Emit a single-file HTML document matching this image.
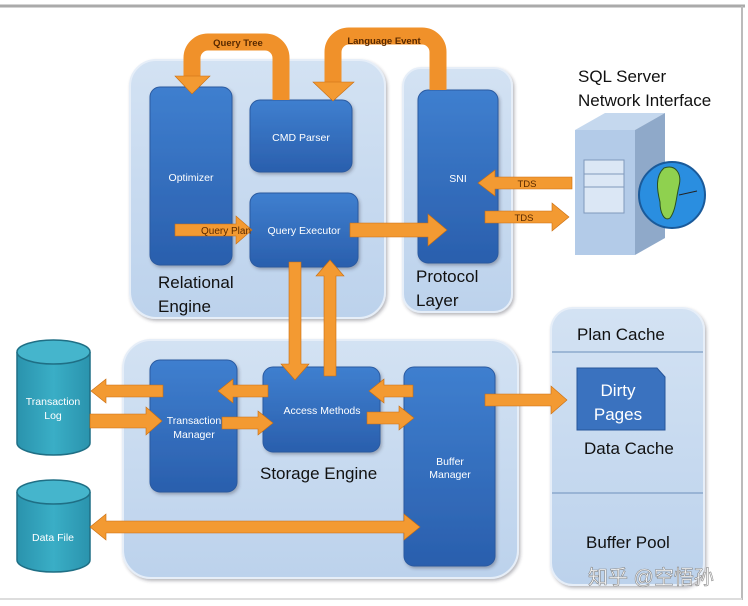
<!DOCTYPE html>
<html><head><meta charset="utf-8"><style>
html,body{margin:0;padding:0;background:#fff;}
svg{display:block;}
text{font-family:"Liberation Sans","Noto Sans CJK SC",sans-serif;}
</style></head><body>
<svg width="748" height="606" viewBox="0 0 748 606" xmlns="http://www.w3.org/2000/svg">
<defs>
<linearGradient id="cont" x1="0" y1="0" x2="0" y2="1"><stop offset="0" stop-color="#d3e2f3"/><stop offset="1" stop-color="#bcd2ec"/></linearGradient>
<linearGradient id="box" x1="0" y1="0" x2="0" y2="1"><stop offset="0" stop-color="#3f7fcf"/><stop offset="1" stop-color="#2a5fad"/></linearGradient>
<linearGradient id="cyl" x1="0" y1="0" x2="1" y2="0"><stop offset="0" stop-color="#2a93ad"/><stop offset="0.5" stop-color="#3aaec6"/><stop offset="1" stop-color="#2a93ad"/></linearGradient>
<filter id="sh" x="-10%" y="-10%" width="130%" height="130%"><feDropShadow dx="1.5" dy="2" stdDeviation="1.5" flood-color="#334" flood-opacity="0.35"/></filter>
</defs>
<rect x="0" y="0" width="748" height="606" fill="#fff"/>
<line x1="0" y1="6" x2="745" y2="6" stroke="#aaa" stroke-width="3"/>
<line x1="742" y1="6" x2="742" y2="600" stroke="#bbb" stroke-width="2"/>
<line x1="0" y1="599" x2="742" y2="599" stroke="#ddd" stroke-width="2"/>

<rect x="130" y="60" width="255" height="258" rx="26" fill="url(#cont)" stroke="#e6eef8" stroke-width="2" filter="url(#sh)"/>
<rect x="403" y="68" width="109" height="244" rx="18" fill="url(#cont)" stroke="#e6eef8" stroke-width="2" filter="url(#sh)"/>
<rect x="123" y="340" width="395" height="238" rx="28" fill="url(#cont)" stroke="#e6eef8" stroke-width="2" filter="url(#sh)"/>
<rect x="551" y="308" width="153" height="277" rx="22" fill="url(#cont)" stroke="#e6eef8" stroke-width="2" filter="url(#sh)"/>
<line x1="552" y1="352" x2="703" y2="352" stroke="#7f9fc6" stroke-width="1.2"/>
<line x1="552" y1="493" x2="703" y2="493" stroke="#7f9fc6" stroke-width="1.2"/>

<g filter="url(#sh)" fill="url(#box)" stroke="#2a5aa0" stroke-width="1">
<rect x="150" y="87" width="82" height="178" rx="10"/>
<rect x="250" y="100" width="102" height="72" rx="10"/>
<rect x="250" y="193" width="108" height="74" rx="10"/>
<rect x="418" y="90" width="80" height="173" rx="10"/>
<rect x="150" y="360" width="87" height="132" rx="10"/>
<rect x="263" y="367" width="117" height="85" rx="10"/>
<rect x="404" y="367" width="91" height="199" rx="10"/>
</g>
<path d="M577,368 H657 L665,377 V430 H577 Z" fill="#3a72bf" stroke="#27559a"/>

<g stroke="#1f6f85" stroke-width="1.5">
<path d="M17,352 V443 A36.5,12 0 0 0 90,443 V352" fill="url(#cyl)"/>
<ellipse cx="53.5" cy="352" rx="36.5" ry="12" fill="#45b5cc"/>
<path d="M17,492 V560 A36.5,12 0 0 0 90,560 V492" fill="url(#cyl)"/>
<ellipse cx="53.5" cy="492" rx="36.5" ry="12" fill="#45b5cc"/>
</g>

<polygon points="575,130 605,113 665,113 635,130" fill="#c5d8ee"/>
<polygon points="635,130 665,113 665,238 635,255" fill="#8fa9c9"/>
<rect x="575" y="130" width="60" height="125" fill="#b3cbe8"/>
<rect x="584" y="160" width="40" height="14" fill="#dbe7f5" stroke="#7f98bb"/>
<rect x="584" y="174" width="40" height="13" fill="#dbe7f5" stroke="#7f98bb"/>
<rect x="584" y="187" width="40" height="26" fill="#dbe7f5" stroke="#7f98bb"/>
<circle cx="672" cy="195" r="33" fill="#2a8ee0" stroke="#1a5a9a" stroke-width="2"/>
<path d="M664,168 C676,164 682,174 679,186 C676,198 676,210 670,218 C664,222 660,212 660,202 C657,190 655,176 664,168Z" fill="#8fd14f" stroke="#2a5020"/>
<line x1="679" y1="195" x2="697" y2="191" stroke="#222" stroke-width="1"/>

<g fill="none" stroke="#f0912a" stroke-linejoin="round">
<path d="M281,100 V58 A16,16 0 0 0 265,42 H208 A16,16 0 0 0 192,58 V78" stroke-width="17"/>
<path d="M438,90 V52 A16,16 0 0 0 422,36 H349 A16,16 0 0 0 333,52 V84" stroke-width="17"/>
</g>
<g fill="#f39a32" stroke="#c96d10" stroke-width="0.6">
<polygon points="175,76 210,76 192,94"/>
<polygon points="313,82 354,82 333,101"/>
<polygon points="175,224 236,224 236,216 252,230 236,244 236,236 175,236"/>
<polygon points="350,223 428,223 428,214 447,230 428,246 428,237 350,237"/>
<polygon points="572,177 495,177 495,170 478,183 495,196 495,189 572,189"/>
<polygon points="485,211 552,211 552,203 569,217 552,231 552,223 485,223"/>
<polygon points="289,262 301,262 301,364 309,364 295,380 281,364 289,364"/>
<polygon points="324,376 336,376 336,276 344,276 330,260 316,276 324,276"/>
<polygon points="163,385 106,385 106,379 91,391 106,403 106,397 163,397"/>
<polygon points="90,414 146,414 146,407 162,421 146,435 146,428 90,428"/>
<polygon points="268,385 233,385 233,379 218,391 233,403 233,397 268,397"/>
<polygon points="222,417 258,417 258,411 273,423 258,435 258,429 222,429"/>
<polygon points="413,385 384,385 384,379 369,391 384,403 384,397 413,397"/>
<polygon points="367,412 399,412 399,406 414,418 399,430 399,424 367,424"/>
<polygon points="485,394 551,394 551,386 567,400 551,414 551,406 485,406"/>
<polygon points="106,521 404,521 404,514 420,527 404,540 404,533 106,533 106,540 90,527 106,514"/>
</g>

<g fill="#fff" font-size="10.5" text-anchor="middle">
<text x="191" y="181">Optimizer</text>
<text x="301" y="141">CMD Parser</text>
<text x="304" y="234">Query Executor</text>
<text x="458" y="182">SNI</text>
<text x="194" y="424">Transaction</text>
<text x="194" y="438">Manager</text>
<text x="322" y="414">Access Methods</text>
<text x="450" y="465">Buffer</text>
<text x="450" y="478">Manager</text>
<text x="53" y="405">Transaction</text>
<text x="53" y="419">Log</text>
<text x="53" y="541">Data File</text>
<text x="618" y="396" font-size="17">Dirty</text>
<text x="618" y="420" font-size="17">Pages</text>
</g>
<g fill="#5a2a00" font-size="9.5" text-anchor="middle" font-weight="bold">
<text x="238" y="46">Query Tree</text>
<text x="384" y="44">Language Event</text>
<text x="226" y="234" font-weight="normal" font-size="10">Query Plan</text>
<text x="527" y="187" font-weight="normal" font-size="9.5">TDS</text>
<text x="524" y="221" font-weight="normal" font-size="9.5">TDS</text>
</g>
<g fill="#111" font-size="17">
<text x="158" y="288">Relational</text>
<text x="158" y="312">Engine</text>
<text x="416" y="282">Protocol</text>
<text x="416" y="306">Layer</text>
<text x="260" y="479">Storage Engine</text>
<text x="578" y="82">SQL Server</text>
<text x="578" y="106">Network Interface</text>
<text x="577" y="340">Plan Cache</text>
<text x="584" y="454">Data Cache</text>
<text x="586" y="548">Buffer Pool</text>
</g>
<text x="588" y="584" font-size="20" fill="#fff" stroke="#888" stroke-width="0.6">知乎 @空悟孙</text>
</svg>
</body></html>
